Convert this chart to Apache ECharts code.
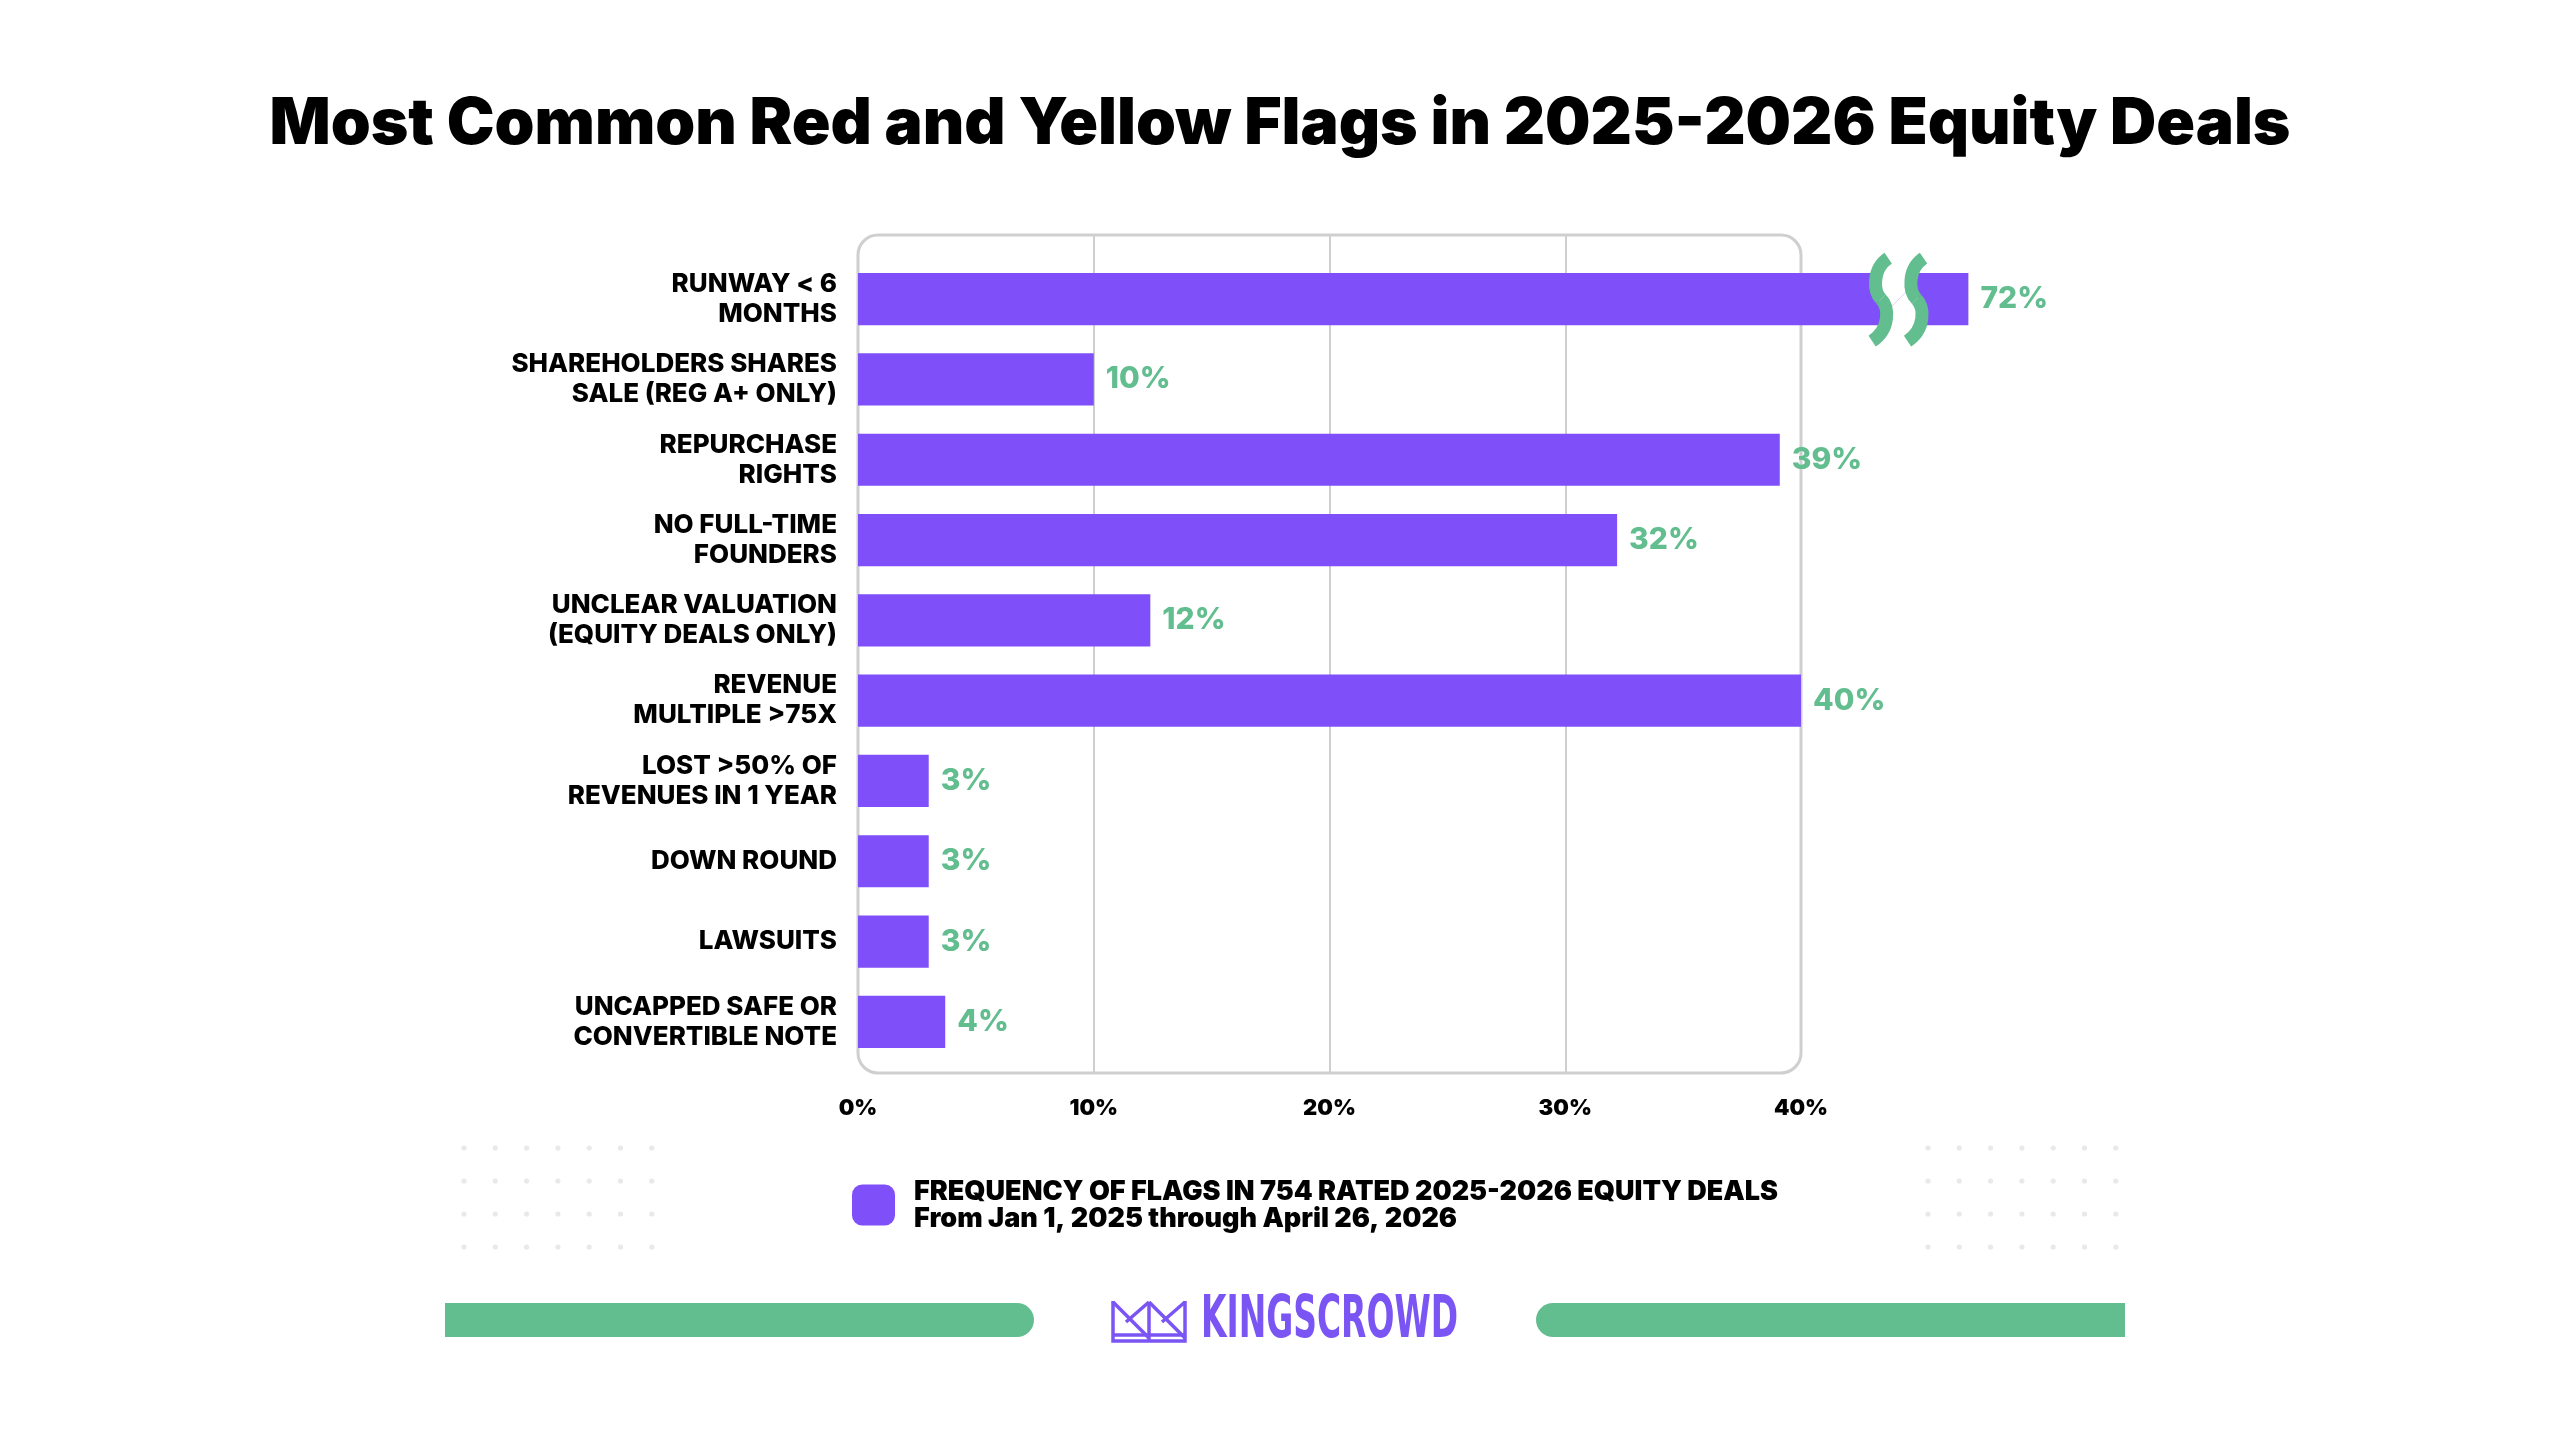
<!DOCTYPE html>
<html>
<head>
<meta charset="utf-8">
<script src="https://cdn.jsdelivr.net/npm/echarts@6/dist/echarts.min.js"></script>
<style>
html,body{margin:0;padding:0;background:#fff;}
#c{width:2560px;height:1440px;}
</style>
</head>
<body>
<div id="c"></div>
<script>
// ---- data ----
const titleText = 'Most Common Red and Yellow Flags in 2025-2026 Equity Deals';
const categories = [
  'RUNWAY < 6\nMONTHS',
  'SHAREHOLDERS SHARES\nSALE (REG A+ ONLY)',
  'REPURCHASE\nRIGHTS',
  'NO FULL-TIME\nFOUNDERS',
  'UNCLEAR VALUATION\n(EQUITY DEALS ONLY)',
  'REVENUE\nMULTIPLE >75X',
  'LOST >50% OF\nREVENUES IN 1 YEAR',
  'DOWN ROUND',
  'LAWSUITS',
  'UNCAPPED SAFE OR\nCONVERTIBLE NOTE'
];
const values = [72, 10, 39.1, 32.2, 12.4, 40, 3, 3, 3, 3.7];
const axisMin = 0, axisMax = 40, axisInterval = 10;
const brokenBarLength = 47.1;      // drawn length (axis units) of bars beyond the axis max
const breakMarkPositions = [43.4, 44.9];
const seriesName = 'FREQUENCY OF FLAGS IN 754 RATED 2025-2026 EQUITY DEALS';
const legendSubtitle = 'From Jan 1, 2025 through April 26, 2026';
const brandName = 'KINGSCROWD';

// ---- style ----
const PURPLE = '#7f4ff9';
const GREEN = '#62bd8f';
const GREY = '#cfcfcf';
const FONT = 'Inter, "Noto Sans", "DejaVu Sans", sans-serif';
const BRAND_FONT = 'bold 58px "DejaVu Sans Condensed", "Liberation Sans Narrow", "DejaVu Sans", sans-serif';

const displayValues = values.map(v => v > axisMax ? brokenBarLength : v);

const chart = echarts.init(document.getElementById('c'), null, {renderer: 'canvas'});

const box = {x: 858, y: 235, w: 943, h: 838};

const dots = [];
[464, 1928].forEach(x0 => {
  for (let r = 0; r < 4; r++) {
    for (let c = 0; c < 7; c++) {
      dots.push({type: 'circle', z: 0, shape: {cx: x0 + c * 31.3, cy: 1148 + r * 33, r: 2.6}, style: {fill: '#e9e9e9'}});
    }
  }
});

const crownStroke = {stroke: '#7b55f4', lineWidth: 3.5, fill: null};
const crown = [
  {type: 'polyline', shape: {points: [[1113, 1301], [1113, 1341], [1185, 1341], [1185, 1301]]}, style: crownStroke},
  {type: 'line', shape: {x1: 1113, y1: 1335, x2: 1185, y2: 1335}, style: crownStroke},
  {type: 'line', shape: {x1: 1149, y1: 1303, x2: 1149, y2: 1341}, style: crownStroke},
  {type: 'line', shape: {x1: 1113, y1: 1302, x2: 1149, y2: 1338}, style: crownStroke},
  {type: 'line', shape: {x1: 1149, y1: 1302, x2: 1126, y2: 1322}, style: crownStroke},
  {type: 'line', shape: {x1: 1149, y1: 1302, x2: 1185, y2: 1338}, style: crownStroke},
  {type: 'line', shape: {x1: 1185, y1: 1302, x2: 1162, y2: 1322}, style: crownStroke}
];

// condense brand text to the logo width
const mctx = document.createElement('canvas').getContext('2d');
mctx.font = BRAND_FONT;
const brandScale = 257 / mctx.measureText(brandName).width;

const staticGraphics = [
  {type: 'rect', z: 0, shape: {x: box.x, y: box.y, width: box.w, height: box.h, r: 20},
   style: {fill: null, stroke: GREY, lineWidth: 3}},
  ...dots,
  {type: 'rect', shape: {x: 445, y: 1303, width: 589, height: 34, r: [0, 17, 17, 0]}, style: {fill: GREEN}},
  {type: 'rect', shape: {x: 1536, y: 1303, width: 589, height: 34, r: [17, 0, 0, 17]}, style: {fill: GREEN}},
  ...crown,
  {type: 'text', x: 1201, y: 1322, scaleX: brandScale, scaleY: 1,
   style: {text: brandName, fill: '#7b55f4', font: BRAND_FONT,
    textVerticalAlign: 'middle', textAlign: 'left'}}
];

const option = {
  backgroundColor: '#fff',
  animation: false,
  title: {
    text: titleText, left: 'center', top: 88,
    textStyle: {fontFamily: FONT, fontSize: 64, fontWeight: 900, color: '#000'}
  },
  legend: {
    left: 852, top: 1178, padding: 0, itemWidth: 43, itemHeight: 41,
    data: [{name: seriesName, icon: 'roundRect'}],
    selectedMode: false,
    formatter: name => name + '\n' + legendSubtitle,
    textStyle: {fontFamily: FONT, fontSize: 27, fontWeight: 900, color: '#000', lineHeight: 27, padding: [0, 0, 0, 14]}
  },
  grid: [
    {left: box.x, right: 2560 - (box.x + box.w), top: box.y, bottom: 1440 - (box.y + box.h)},
    {left: box.x, right: 2560 - (box.x + box.w), top: 259, bottom: 378}
  ],
  xAxis: [
    {type: 'value', gridIndex: 0, min: axisMin, max: axisMax, interval: axisInterval,
     axisLine: {show: false}, axisTick: {show: false},
     splitLine: {show: true, showMinLine: false, showMaxLine: false, lineStyle: {color: GREY, width: 2}},
     axisLabel: {formatter: '{value}%', margin: 24, fontFamily: FONT, fontSize: 22, fontWeight: 900, color: '#000'}},
    {type: 'value', gridIndex: 1, min: axisMin, max: axisMax, interval: axisInterval, show: false}
  ],
  yAxis: [
    {type: 'category', gridIndex: 0, data: categories, show: false},
    {type: 'category', gridIndex: 1, data: categories, inverse: true,
     axisLine: {show: false}, axisTick: {show: false}, splitLine: {show: false},
     axisLabel: {margin: 21, fontFamily: FONT, fontSize: 26, fontWeight: 800, color: '#000', lineHeight: 30, align: 'right'}}
  ],
  series: [{
    name: seriesName, type: 'bar', xAxisIndex: 1, yAxisIndex: 1,
    data: displayValues, barWidth: '65%', clip: false, z: 5,
    itemStyle: {color: PURPLE},
    label: {show: true, position: 'right', distance: 12,
      formatter: p => Math.round(values[p.dataIndex]) + '%',
      fontFamily: FONT, fontSize: 30, fontWeight: 800, color: GREEN}
  }],
  graphic: {elements: staticGraphics}
};
chart.setOption(option);

// break marks for bars exceeding the axis
const breakGraphics = [];
function sPath(cx, cy, color, width, z) {
  return [
    {type: 'bezierCurve', z: z, shape: {x1: cx + 7, y1: cy - 41, cpx1: cx - 9, cpy1: cy - 30, cpx2: cx - 8, cpy2: cy - 8, x2: cx, y2: cy},
     style: {stroke: color, lineWidth: width, fill: null, lineCap: 'butt'}},
    {type: 'bezierCurve', z: z, shape: {x1: cx, y1: cy, cpx1: cx + 8, cpy1: cy + 8, cpx2: cx + 9, cpy2: cy + 30, x2: cx - 9, y2: cy + 42},
     style: {stroke: color, lineWidth: width, fill: null, lineCap: 'butt'}}
  ];
}
values.forEach((v, i) => {
  if (v > axisMax) {
    const cy = chart.convertToPixel({yAxisIndex: 1}, i);
    const xs = breakMarkPositions.map(p => chart.convertToPixel({xAxisIndex: 1}, p));
    const mid = (xs[0] + xs[1]) / 2;
    breakGraphics.push(...sPath(mid, cy, '#fff', xs[1] - xs[0], 50));
    xs.forEach(x => breakGraphics.push(...sPath(x, cy, GREEN, 13, 60)));
  }
});
chart.setOption({graphic: {elements: staticGraphics.concat(breakGraphics)}}, {replaceMerge: ['graphic']});
</script>
</body>
</html>
